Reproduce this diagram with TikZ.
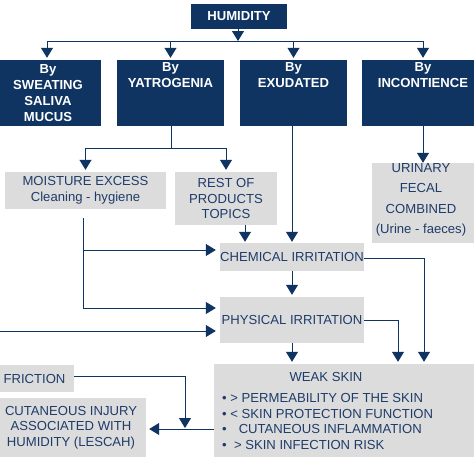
\documentclass[tikz,border=0pt]{standalone}
\usepackage{fontspec}
\setmainfont{Liberation Sans}
\usetikzlibrary{arrows.meta}
\definecolor{navy}{HTML}{0F3462}
\definecolor{boxgray}{HTML}{DCDCDC}
\definecolor{txtnavy}{HTML}{1E3C6A}
\tikzset{
  x=1pt, y=-1pt,
  darkbox/.style={fill=navy, text=white, font=\fontsize{13.1}{16}\selectfont\bfseries, align=center, inner sep=0pt, anchor=center},
  graybox/.style={fill=boxgray, text=txtnavy, font=\fontsize{13.1}{15.5}\selectfont, align=center, inner sep=0pt, anchor=center},
  plaintext/.style={text=txtnavy, font=\fontsize{13.1}{15.5}\selectfont, inner sep=0pt},
  conn/.style={draw=navy, line width=1pt},
  arr/.style={conn, -{Triangle[length=10pt,width=12pt]}}
}
\begin{document}
\begin{tikzpicture}
\useasboundingbox (0,0) rectangle (474,474);
\fill[white] (0,0) rectangle (474,474);
\begin{scope}
\clip (0,0) rectangle (474,474);
% top
\node[darkbox, minimum width=96pt, minimum height=25pt] (hum) at (239,16.5) {HUMIDITY};
\node[darkbox, minimum width=106pt, minimum height=66pt] (b1) at (48,93) {By\\SWEATING\\SALIVA\\MUCUS};
\node[darkbox, minimum width=107pt, minimum height=66pt] (b2) at (170.5,93) {By\\YATROGENIA\\[16pt]\strut};
\node[darkbox, minimum width=107pt, minimum height=66pt] (b3) at (293.5,93) {By\\EXUDATED\\[16pt]\strut};
\node[darkbox, minimum width=122pt, minimum height=66pt] (b4) at (423,93) {By\\INCONTIENCE\\[16pt]\strut};
% gray
\node[graybox, minimum width=161pt, minimum height=37pt] (moist) at (85.5,190.5) {MOISTURE EXCESS\\Cleaning - hygiene};
\node[graybox, minimum width=102pt, minimum height=53pt] (rest) at (226,198.5) {REST OF\\PRODUCTS\\TOPICS};
\node[graybox, minimum width=112pt, minimum height=80pt] (uri) at (428,203) {};
\node[plaintext, align=center, font=\fontsize{13.1}{20.5}\selectfont] (urit) at (421,200) {URINARY\\FECAL\\COMBINED\\(Urine - faeces)};
\node[graybox, minimum width=144pt, minimum height=28pt] (chem) at (292,257) {CHEMICAL IRRITATION};
\node[graybox, minimum width=144pt, minimum height=46pt] (phys) at (292,320) {PHYSICAL IRRITATION};
\node[graybox, minimum width=260pt, minimum height=93pt] (weak) at (344,410.5) {};
\node[plaintext] (wt) at (326,377) {WEAK SKIN};
\node[plaintext, anchor=west] (w1) at (222,398) {\textbullet\ > PERMEABILITY OF THE SKIN};
\node[plaintext, anchor=west] (w2) at (222,413.5) {\textbullet\ < SKIN PROTECTION FUNCTION};
\node[plaintext, anchor=west] (w3) at (222,429) {\textbullet\hspace{12pt}CUTANEOUS INFLAMMATION};
\node[plaintext, anchor=west] (w4) at (222,445) {\textbullet\ \ > SKIN INFECTION RISK};
\node[graybox, minimum width=79pt, minimum height=27pt] (fric) at (34.5,378.5) {FRICTION};
\node[graybox, minimum width=150pt, minimum height=59pt] (cut) at (71,427.5) {CUTANEOUS INJURY\\ASSOCIATED WITH\\HUMIDITY (LESCAH)};
% coordinates
\coordinate (hj) at (238,41);
\coordinate (yj) at (171,148);
\coordinate (m0) at (83,218);
\coordinate (L0) at (0,331);
% connectors
\draw[arr] (hum.south -| hj) -- (hj);
\draw[conn] (hj -| b1.north) ++(-1,0) -- (hj -| b4.north);
\draw[arr, shorten >=2pt] (hj -| 47,0) -- (b1.north -| 47,0);
\draw[arr, shorten >=2pt] (hj -| b2.north) -- (b2.north);
\draw[arr, shorten >=2pt] (hj -| b3.north) -- (b3.north);
\draw[arr, shorten >=2pt] (hj -| b4.north) -- (b4.north);
\draw[conn] (b2.south -| yj) -- (yj);
\draw[conn] (yj -| moist.north) -- (yj -| rest.north);
\draw[arr, shorten >=2pt] (yj -| moist.north) -- (moist.north);
\draw[arr, shorten >=2pt] (yj -| rest.north) -- (rest.north);
\draw[arr, shorten >=1pt] (b3.south -| 292,0) -- (chem.north -| 292,0);
\draw[arr] (b4.south) -- (uri.north -| b4.south);
\draw[arr, shorten >=1pt] (rest.south -| 245,0) -- (chem.north -| 245,0);
\draw[conn] (m0) -- (m0 |- 0,308);
\draw[arr, shorten >=4pt] (m0 |- 0,250) -- (chem.west |- 0,250);
\draw[arr, shorten >=4pt] (m0 |- 0,308) -- (phys.west |- 0,308);
\draw[arr, shorten >=4pt] (L0) -- (phys.west |- L0);
\draw[arr, shorten >=2pt] (chem.south) -- (phys.north);
\draw[arr, shorten >=2pt] (chem.east |- 0,258) -- (424,258) -- (weak.north -| 424,0);
\draw[arr, shorten >=2pt] (phys.east) -- (398,320) -- (weak.north -| 398,0);
\draw[arr, shorten >=2pt] (phys.south) -- (weak.north -| phys.south);
\draw[arr, shorten >=3pt] (weak.west |- 0,429) -- (cut.east |- 0,429);
\draw[arr, shorten >=1pt] (fric.east |- 0,376) -- (185,376) -- (185,429);
\end{scope}
\end{tikzpicture}
\end{document}
